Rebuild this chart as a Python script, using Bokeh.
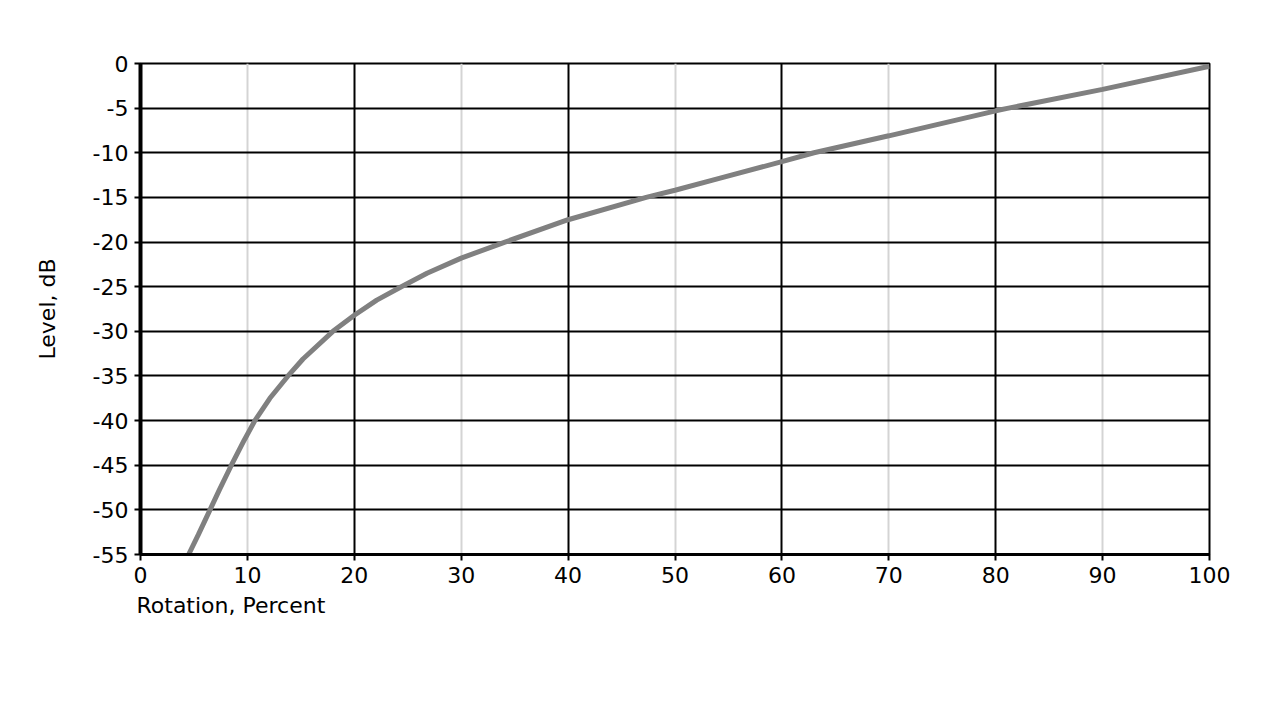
from bokeh.plotting import figure
from bokeh.models import FixedTicker, Grid, Range1d, Title
from bokeh.embed import file_html
from bokeh.resources import INLINE

# Data
rotation_pct = [4.5, 5.4, 6.5, 7.4, 8.5, 9.7, 10.7, 12.1, 13.8, 15.2, 18.0, 20.0,
                22.1, 24.4, 26.8, 30.0, 34.1, 40.0, 47.3, 50.0, 53.7, 60.0, 63.0,
                70.0, 80.0, 81.2, 90.0, 100.0]
level_db = [-55.0, -52.8, -50.0, -47.7, -45.0, -42.2, -40.0, -37.5, -35.0, -33.1,
            -30.0, -28.2, -26.5, -25.0, -23.5, -21.8, -20.0, -17.5, -15.0, -14.2,
            -13.0, -11.0, -10.0, -8.1, -5.3, -5.0, -2.9, -0.3]

x_ticks = [0, 10, 20, 30, 40, 50, 60, 70, 80, 90, 100]
y_ticks = [-55, -50, -45, -40, -35, -30, -25, -20, -15, -10, -5, 0]
x_major_grid = [0, 20, 40, 60, 80, 100]
x_minor_grid = [10, 30, 50, 70, 90]
x_title = "Rotation, Percent"
y_title = "Level, dB"

FONT = "DejaVu Sans"

p = figure(frame_width=1069, frame_height=491,
           x_range=Range1d(0, 100), y_range=Range1d(-55, 0),
           output_backend="svg", toolbar_location=None,
           min_border_left=140, min_border_top=63,
           min_border_right=40, min_border_bottom=90,
           background_fill_color="white", border_fill_color="white")

p.outline_line_color = "black"
p.outline_line_width = 2

# grids
p.xgrid.ticker = FixedTicker(ticks=x_major_grid)
p.xgrid.grid_line_color = "black"
p.xgrid.grid_line_width = 2
p.ygrid.ticker = FixedTicker(ticks=y_ticks)
p.ygrid.grid_line_color = "black"
p.ygrid.grid_line_width = 2
minor = Grid(dimension=0, ticker=FixedTicker(ticks=x_minor_grid),
             grid_line_color="#d4d4d4", grid_line_width=2)
p.center = [minor] + list(p.center)

# axes
for ax, ticks in ((p.xaxis, x_ticks), (p.yaxis, y_ticks)):
    ax.ticker = FixedTicker(ticks=ticks)
    ax.major_label_overrides = {t: str(t) for t in ticks}
    ax.minor_tick_line_color = None
    ax.major_tick_in = 0
    ax.major_tick_out = 6
    ax.major_tick_line_width = 2
    ax.major_tick_line_color = "black"
    ax.axis_line_color = "black"
    ax.major_label_text_font = FONT
    ax.major_label_text_font_size = "22px"
    ax.major_label_text_color = "black"
    ax.axis_label_text_font = FONT
    ax.axis_label_text_font_size = "22px"
    ax.axis_label_text_font_style = "normal"
    ax.axis_label_text_color = "black"

p.yaxis.axis_line_width = 4
p.xaxis.axis_line_width = 3
p.xaxis.major_label_standoff = 6
p.yaxis.major_label_standoff = 6
p.yaxis.axis_label = y_title
p.yaxis.axis_label_standoff = 30

p.add_layout(Title(text=x_title, align="left", offset=-4, standoff=10,
                   text_font=FONT, text_font_size="22px",
                   text_font_style="normal", text_color="black"), "below")

p.line(rotation_pct, level_db, line_color="#808080", line_width=5)

open("out.html", "w").write(file_html(p, INLINE))
